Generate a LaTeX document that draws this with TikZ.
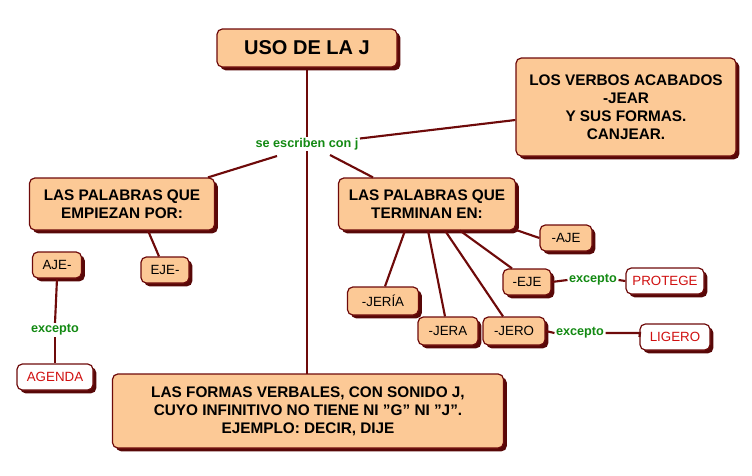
\documentclass[tikz,border=0pt]{standalone}
\usepackage{fontspec}
\setmainfont{Liberation Sans}
\usetikzlibrary{shadows}
\definecolor{peach}{HTML}{FCC996}
\definecolor{maroon}{HTML}{6E0A0A}
\definecolor{grn}{HTML}{138A13}
\definecolor{redt}{HTML}{D01010}
\newcommand{\dq}{\char34\relax}
\tikzset{
 box/.style={draw=maroon,line width=0.9pt,fill=peach,rounded corners=4pt,align=center,font=\bfseries\fontsize{11.5}{13.5}\selectfont,drop shadow={shadow xshift=2.5pt,shadow yshift=-2.5pt,fill=maroon!80!black,opacity=1},inner sep=0pt},
 wbox/.style={box,fill=white,text=redt,font=\fontsize{10}{11}\selectfont},
 sbox/.style={box,font=\fontsize{10}{11}\selectfont},
 lbl/.style={text=grn,font=\bfseries\fontsize{9.5}{11}\selectfont,fill=white,inner sep=1pt},
 con/.style={draw=maroon,line width=1.6pt}
}
\begin{document}
\begin{tikzpicture}[x=0.75pt,y=-0.75pt]
\useasboundingbox (0,0) rectangle (752,475);
\coordinate (vtop) at (307,68);
\coordinate (vbot) at (307,374);
\draw[con] (vtop) -- (vbot);
\node[lbl] (se) at (307,144) {se escriben con j};
\node[box,minimum width=180*0.75pt,minimum height=38*0.75pt,font=\bfseries\fontsize{15}{17}\selectfont] (title) at (307,48) {USO DE LA J};
\node[box,minimum width=220*0.75pt,minimum height=98*0.75pt] (verbos) at (626,107) {LOS VERBOS ACABADOS\\-JEAR\\Y SUS FORMAS.\\CANJEAR.};
\node[box,minimum width=185*0.75pt,minimum height=52*0.75pt] (emp) at (122,204) {LAS PALABRAS QUE\\EMPIEZAN POR:};
\node[box,minimum width=177*0.75pt,minimum height=52*0.75pt] (ter) at (427,204) {LAS PALABRAS QUE\\TERMINAN EN:};
\node[box,minimum width=391*0.75pt,minimum height=74*0.75pt] (bot) at (308,411) {LAS FORMAS VERBALES, CON SONIDO J,\\CUYO INFINITIVO NO TIENE NI \dq G\dq{} NI \dq J\dq.\\EJEMPLO: DECIR, DIJE};
\node[sbox,minimum width=49*0.75pt,minimum height=26*0.75pt] (aje) at (57,265) {AJE-};
\node[sbox,minimum width=48*0.75pt,minimum height=26*0.75pt] (eje) at (165,270) {EJE-};
\node[lbl] (ex1) at (55,330) {excepto};
\node[wbox,minimum width=76*0.75pt,minimum height=26*0.75pt] (agenda) at (55,377) {AGENDA};
\node[sbox,minimum width=52*0.75pt,minimum height=26*0.75pt] (maje) at (566,238) {-AJE};
\node[sbox,minimum width=48*0.75pt,minimum height=26*0.75pt] (meje) at (527,282) {-EJE};
\node[lbl] (ex2) at (593,280) {excepto};
\node[wbox,minimum width=78*0.75pt,minimum height=26*0.75pt] (protege) at (665,281) {PROTEGE};
\node[sbox,minimum width=71*0.75pt,minimum height=28*0.75pt] (jeria) at (383,301) {-JERÍA};
\node[sbox,minimum width=60*0.75pt,minimum height=28*0.75pt] (jera) at (448,331) {-JERA};
\node[sbox,minimum width=62*0.75pt,minimum height=28*0.75pt] (jero) at (514,331) {-JERO};
\node[lbl] (ex3) at (580,333) {excepto};
\node[wbox,minimum width=70*0.75pt,minimum height=26*0.75pt] (ligero) at (675,337) {LIGERO};
\draw[con] (se.north east) ++(0,2) -- (verbos.west |- 0,120);
\draw[con] (277,156) -- (emp.north -| 208,0);
\draw[con] (330,155) -- (ter.north -| 373,0);
\draw[con] (aje.south) -- (ex1.north);
\draw[con] (ex1.south) -- (agenda.north);
\draw[con] (eje.north -| 159,0) -- (emp.south -| 148,0);
\draw[con] (ter.south -| 405,0) -- (jeria.north -| 385,0);
\draw[con] (ter.south -| 428,0) -- (jera.north -| 445,0);
\draw[con] (ter.south -| 445,0) -- (jero.north -| 503,0);
\draw[con] (ter.south -| 460,0) -- (meje.north -| 512,0);
\draw[con] (ter.east |- 0,230) -- (maje.west);
\draw[con] (meje.east) -- (ex2.west);
\draw[con] (ex2.east) -- (protege.west);
\draw[con] (jero.east) -- (ex3.west);
\draw[con] (ex3.east) -- (640,333) -- (ligero.west);
\end{tikzpicture}
\end{document}
